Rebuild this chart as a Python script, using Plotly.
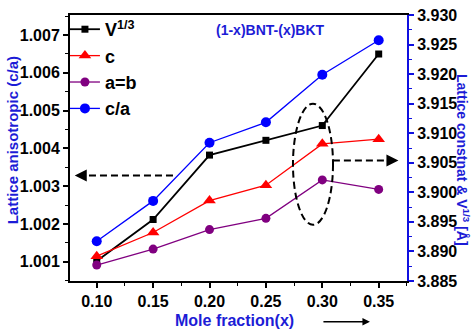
import plotly.graph_objects as go

# Mole fraction x of BKT in (1-x)BNT-(x)BKT
mole_fraction = [0.10, 0.15, 0.20, 0.25, 0.30, 0.35]

# Lattice parameters (Å), right axis
v_cube_root = [3.8884, 3.8954, 3.9063, 3.9088, 3.9113, 3.9234]
lattice_c = [3.8892, 3.8932, 3.8986, 3.9012, 3.9082, 3.9090]
lattice_a = [3.8877, 3.8904, 3.8937, 3.8956, 3.9021, 3.9005]

# Tetragonal anisotropy c/a, left axis
c_over_a = [1.00154, 1.00261, 1.00415, 1.00469, 1.00595, 1.00686]

BLUE = "#1c1cd6"
FONT = "Liberation Sans"

fig = go.Figure()

fig.add_trace(go.Scatter(
    x=mole_fraction, y=v_cube_root, yaxis="y2", name="V<sup>1/3</sup>",
    mode="lines+markers", line=dict(color="black", width=1.8),
    marker=dict(symbol="square", size=7, color="black")))
fig.add_trace(go.Scatter(
    x=mole_fraction, y=lattice_c, yaxis="y2", name="c",
    mode="lines+markers", line=dict(color="#ff0000", width=1.3),
    marker=dict(symbol="triangle-up", size=11, color="#ff0000")))
fig.add_trace(go.Scatter(
    x=mole_fraction, y=lattice_a, yaxis="y2", name="a=b",
    mode="lines+markers", line=dict(color="#800080", width=1.3),
    marker=dict(symbol="circle", size=9, color="#800080")))
fig.add_trace(go.Scatter(
    x=mole_fraction, y=c_over_a, yaxis="y", name="c/a",
    mode="lines+markers", line=dict(color="#0000ff", width=1.3),
    marker=dict(symbol="circle", size=10, color="#0000ff")))

tick_font = dict(family=FONT, size=16, color="black", weight="bold")

fig.update_layout(
    width=474, height=332,
    margin=dict(l=70, r=67, t=7, b=51),
    paper_bgcolor="white", plot_bgcolor="white",
    font=dict(family=FONT),
    showlegend=True,
    legend=dict(x=-0.015, y=1.015, xanchor="left", yanchor="top",
                bgcolor="rgba(0,0,0,0)", borderwidth=0,
                font=dict(family=FONT, size=18, color="black", weight="bold"),
                itemwidth=30, tracegroupgap=0),
    xaxis=dict(range=[0.0763, 0.3751], tick0=0.10, dtick=0.05, tickformat=".2f",
               showgrid=False, zeroline=False, showline=True, linecolor="black",
               linewidth=2, mirror=True, ticks="outside", ticklen=5, tickwidth=1.5,
               tickcolor="black", tickfont=tick_font,
               minor=dict(dtick=0.025, tick0=0.10, ticks="outside", ticklen=3,
                          tickcolor="black", tickwidth=1.2)),
    yaxis=dict(range=[1.00049, 1.00753], tick0=1.001, dtick=0.001, tickformat=".3f",
               showgrid=False, zeroline=False, showline=True, linecolor="black",
               linewidth=2, ticks="outside", ticklen=5, tickwidth=1.5,
               tickcolor="black", tickfont=tick_font,
               minor=dict(dtick=0.0005, tick0=1.001, ticks="outside", ticklen=3,
                          tickcolor="black", tickwidth=1.2)),
    yaxis2=dict(range=[3.885, 3.930], tick0=3.885, dtick=0.005, tickformat=".3f",
                overlaying="y", side="right",
                showgrid=False, zeroline=False, showline=True, linecolor="#1010e0",
                linewidth=2, ticks="outside", ticklen=5, tickwidth=1.5,
                tickcolor="#1010e0", tickfont=tick_font,
                minor=dict(dtick=0.0025, tick0=3.885, ticks="outside", ticklen=3,
                           tickcolor="#1010e0", tickwidth=1.2)),
)

# Dashed ellipse marking the x = 0.30 composition
fig.add_shape(type="circle", xref="x", yref="y2",
              x0=0.274, x1=0.3095, y0=3.8945, y1=3.9150,
              line=dict(color="black", width=2, dash="7px,4px"))

# Dashed guide arrows pointing at the two axes
fig.add_shape(type="line", xref="x", yref="y", x0=0.1676, x1=0.083,
              y0=1.00328, y1=1.00328,
              line=dict(color="black", width=2, dash="7px,4px"))
fig.add_shape(type="line", xref="x", yref="y2", x0=0.3094, x1=0.364,
              y0=3.9054, y1=3.9054,
              line=dict(color="black", width=2, dash="7px,4px"))
fig.add_annotation(x=0.0805, y=1.00328, xref="x", yref="y", text="",
                   showarrow=True, ax=8, ay=0, arrowhead=2, arrowsize=1.2,
                   arrowwidth=2, arrowcolor="black")
fig.add_annotation(x=0.3675, y=3.9054, xref="x", yref="y2", text="",
                   showarrow=True, ax=-8, ay=0, arrowhead=2, arrowsize=1.2,
                   arrowwidth=2, arrowcolor="black")

title_font = dict(family=FONT, size=15, color=BLUE, weight="bold")

fig.add_annotation(x=0.596, y=0.942, xref="paper", yref="paper",
                   xanchor="center", yanchor="middle",
                   text="(1-x)BNT-(x)BKT", showarrow=False,
                   font=dict(family=FONT, size=14, color=BLUE, weight="bold"))
fig.add_annotation(x=-0.172, y=0.529, xref="paper", yref="paper",
                   xanchor="center", yanchor="middle",
                   text="Lattice anisotropic (c/a)", textangle=-90,
                   showarrow=False, font=title_font)
fig.add_annotation(x=1.166, y=0.455, xref="paper", yref="paper",
                   xanchor="center", yanchor="middle",
                   text="Lattice constnat &amp; V<sup>1/3</sup> [Å]", textangle=90,
                   showarrow=False, font=dict(family=FONT, size=14, color=BLUE, weight="bold"))
fig.add_annotation(x=0.487, y=-0.150, xref="paper", yref="paper",
                   xanchor="center", yanchor="middle",
                   text="Mole fraction(x)", showarrow=False,
                   font=dict(family=FONT, size=16, color=BLUE, weight="bold"))
fig.add_annotation(x=0.890, y=-0.153, xref="paper", yref="paper", text="",
                   showarrow=True, ax=-48, ay=0, arrowhead=2, arrowsize=1,
                   arrowwidth=1.5, arrowcolor="black")

fig.write_html("out.html")
